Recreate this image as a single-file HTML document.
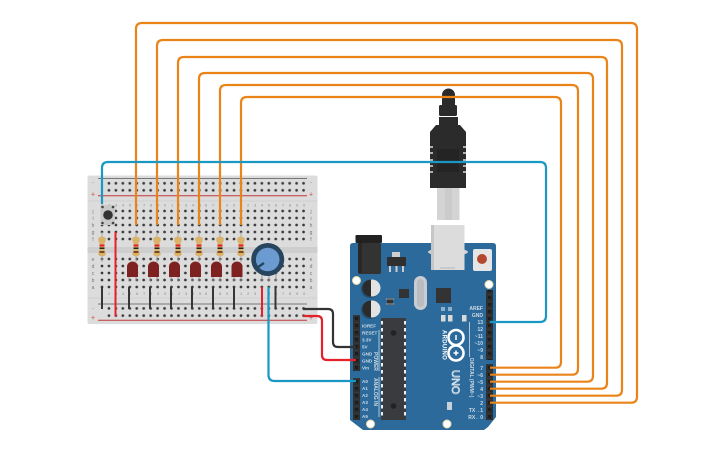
<!DOCTYPE html>
<html><head><meta charset="utf-8">
<style>html,body{margin:0;padding:0;background:#fff}svg{display:block}text{font-family:"Liberation Sans",sans-serif}</style>
</head><body>
<svg width="725" height="453" viewBox="0 0 725 453" xmlns="http://www.w3.org/2000/svg">
<defs>
<pattern id="hT" x="98.525" y="179.8" width="6.95" height="7" patternUnits="userSpaceOnUse"><circle cx="3.475" cy="3.5" r="1.35" fill="#3a3a3a"/></pattern>
<pattern id="hU" x="98.525" y="207.5" width="6.95" height="7" patternUnits="userSpaceOnUse"><circle cx="3.475" cy="3.5" r="1.35" fill="#3a3a3a"/></pattern>
<pattern id="hL" x="98.525" y="255.5" width="6.95" height="7" patternUnits="userSpaceOnUse"><circle cx="3.475" cy="3.5" r="1.35" fill="#3a3a3a"/></pattern>
<pattern id="hB" x="98.525" y="304.8" width="6.95" height="7.2" patternUnits="userSpaceOnUse"><circle cx="3.475" cy="3.6" r="1.35" fill="#3a3a3a"/></pattern>
<pattern id="pin" x="353" y="0" width="7" height="7" patternUnits="userSpaceOnUse"><rect width="7" height="7" fill="#2f2f2f"/><rect x="2" y="2" width="3" height="3" fill="#1d1d1d"/><path d="M0 0h7" stroke="#444" stroke-width=".6"/></pattern>
<pattern id="pinr" x="486" y="0" width="7" height="7" patternUnits="userSpaceOnUse"><rect width="7" height="7" fill="#2f2f2f"/><rect x="2" y="2" width="3" height="3" fill="#1d1d1d"/><path d="M0 0h7" stroke="#444" stroke-width=".6"/></pattern>
<pattern id="chipd" x="0" y="321" width="7" height="7" patternUnits="userSpaceOnUse"><rect x="0" y="0" width="7" height="3.5" fill="#eee"/></pattern>
</defs>

<!-- Breadboard -->
<rect x="87.5" y="175.5" width="230" height="148.5" rx="2" fill="#dcdcdc"/>
<rect x="87.5" y="247" width="230" height="6" fill="#cecece"/>
<path d="M87.5 201H317.5M87.5 298H317.5" stroke="#cfcfcf" stroke-width="1"/>
<path d="M98 178.500H307M98 304H307" stroke="#777" stroke-width="1"/>
<path d="M98 195.700H307M98 320.300H307" stroke="#c23a3a" stroke-width="1"/>
<g font-size="6" fill="#888" text-anchor="middle">
<text x="93" y="184">-</text><text x="311" y="184">-</text><text x="93" y="310">-</text><text x="311" y="310">-</text>
</g>
<g font-size="7" fill="#c44" text-anchor="middle">
<text x="93" y="196.500">+</text><text x="311" y="196.500">+</text><text x="93" y="320">+</text><text x="311" y="320">+</text>
</g>
<!-- holes -->
<rect x="105.475" y="179.800" width="201" height="14" fill="url(#hT)"/>
<rect x="105.475" y="304.800" width="201" height="14.400" fill="url(#hB)"/>
<rect x="98.525" y="207.500" width="208" height="35" fill="url(#hU)"/>
<rect x="98.525" y="255.500" width="208" height="35" fill="url(#hL)"/>
<!-- labels -->
<g font-size="5" fill="#777" text-anchor="middle">
<text x="93" y="213">j</text><text x="93" y="220">i</text><text x="93" y="227">h</text><text x="93" y="234">g</text><text x="93" y="241">f</text>
<text x="93" y="261">e</text><text x="93" y="268">d</text><text x="93" y="275">c</text><text x="93" y="282">b</text><text x="93" y="289">a</text>
<text x="311" y="213">j</text><text x="311" y="220">i</text><text x="311" y="227">h</text><text x="311" y="234">g</text><text x="311" y="241">f</text>
<text x="311" y="261">e</text><text x="311" y="268">d</text><text x="311" y="275">c</text><text x="311" y="282">b</text><text x="311" y="289">a</text>
</g>
<g font-size="4" fill="#8a8a8a">
<text y="206.500" x="101 108 115 122 129 136 143 150 157 164 171 178 185 192 199 205 212 219 226 233 240 247 254 261 268 275 282 289 296 303">123456789012345678901234567890</text>
<text y="295" x="101 108 115 122 129 136 143 150 157 164 171 178 185 192 199 205 212 219 226 233 240 247 254 261 268 275 282 289 296 303">123456789012345678901234567890</text>
</g>

<!-- Button -->
<rect x="100.500" y="205" width="14.500" height="20" fill="#c8c8c8"/>
<circle cx="108" cy="215" r="4.800" fill="#333"/>
<g fill="#444"><circle cx="102.500" cy="207" r="1.300"/><circle cx="113" cy="207" r="1.300"/><circle cx="102.500" cy="223" r="1.300"/><circle cx="113" cy="223" r="1.300"/></g>

<!-- Resistors -->
<g transform="translate(102 0)"><path d="M0 232V262" stroke="#aaa" stroke-width="1"/><path d="M-3.700 238q3.700-3 7.400 0l0 3-1.200 2v8l1.200 2v2q-3.700 3-7.400 0v-2l1.200-2v-8l-1.200-2z" fill="#d9b36c"/><rect x="-2.500" y="243.500" width="5" height="1.500" fill="#d9b36c"/><rect x="-2.500" y="244.500" width="5" height="2" fill="#e3222a"/><rect x="-2.500" y="247.500" width="5" height="1.500" fill="#222"/><rect x="-2.500" y="251" width="5" height="2" fill="#7a4a20"/></g>
<g transform="translate(136 0)"><path d="M0 232V262" stroke="#aaa" stroke-width="1"/><path d="M-3.700 238q3.700-3 7.400 0l0 3-1.200 2v8l1.200 2v2q-3.700 3-7.400 0v-2l1.200-2v-8l-1.200-2z" fill="#d9b36c"/><rect x="-2.500" y="244.500" width="5" height="2" fill="#e3222a"/><rect x="-2.500" y="247.500" width="5" height="1.500" fill="#222"/><rect x="-2.500" y="251" width="5" height="2" fill="#7a4a20"/></g>
<g transform="translate(157 0)"><path d="M0 232V262" stroke="#aaa" stroke-width="1"/><path d="M-3.700 238q3.700-3 7.400 0l0 3-1.200 2v8l1.200 2v2q-3.700 3-7.400 0v-2l1.200-2v-8l-1.200-2z" fill="#d9b36c"/><rect x="-2.500" y="244.500" width="5" height="2" fill="#e3222a"/><rect x="-2.500" y="247.500" width="5" height="1.500" fill="#222"/><rect x="-2.500" y="251" width="5" height="2" fill="#7a4a20"/></g>
<g transform="translate(178 0)"><path d="M0 232V262" stroke="#aaa" stroke-width="1"/><path d="M-3.700 238q3.700-3 7.400 0l0 3-1.200 2v8l1.200 2v2q-3.700 3-7.400 0v-2l1.200-2v-8l-1.200-2z" fill="#d9b36c"/><rect x="-2.500" y="244.500" width="5" height="2" fill="#e3222a"/><rect x="-2.500" y="247.500" width="5" height="1.500" fill="#222"/><rect x="-2.500" y="251" width="5" height="2" fill="#7a4a20"/></g>
<g transform="translate(199 0)"><path d="M0 232V262" stroke="#aaa" stroke-width="1"/><path d="M-3.700 238q3.700-3 7.400 0l0 3-1.200 2v8l1.200 2v2q-3.700 3-7.400 0v-2l1.200-2v-8l-1.200-2z" fill="#d9b36c"/><rect x="-2.500" y="244.500" width="5" height="2" fill="#e3222a"/><rect x="-2.500" y="247.500" width="5" height="1.500" fill="#222"/><rect x="-2.500" y="251" width="5" height="2" fill="#7a4a20"/></g>
<g transform="translate(220 0)"><path d="M0 232V262" stroke="#aaa" stroke-width="1"/><path d="M-3.700 238q3.700-3 7.400 0l0 3-1.200 2v8l1.200 2v2q-3.700 3-7.400 0v-2l1.200-2v-8l-1.200-2z" fill="#d9b36c"/><rect x="-2.500" y="244.500" width="5" height="2" fill="#e3222a"/><rect x="-2.500" y="247.500" width="5" height="1.500" fill="#222"/><rect x="-2.500" y="251" width="5" height="2" fill="#7a4a20"/></g>
<g transform="translate(241 0)"><path d="M0 232V262" stroke="#aaa" stroke-width="1"/><path d="M-3.700 238q3.700-3 7.400 0l0 3-1.200 2v8l1.200 2v2q-3.700 3-7.400 0v-2l1.200-2v-8l-1.200-2z" fill="#d9b36c"/><rect x="-2.500" y="244.500" width="5" height="2" fill="#e3222a"/><rect x="-2.500" y="247.500" width="5" height="1.500" fill="#222"/><rect x="-2.500" y="251" width="5" height="2" fill="#7a4a20"/></g>

<!-- LEDs -->
<g stroke="#999" stroke-width="1"><path d="M129 276V281M136 276V281M150 276V281M157 276V281M171 276V281M178 276V281M192 276V281M199 276V281M213 276V281M220 276V281M234 276V281M241 276V281"/></g>
<g fill="#7e2121">
<path d="M127 266.500a5.500 5 0 0 1 11 0v10.500h-11z"/>
<path d="M148 266.500a5.500 5 0 0 1 11 0v10.500h-11z"/>
<path d="M169 266.500a5.500 5 0 0 1 11 0v10.500h-11z"/>
<path d="M190 266.500a5.500 5 0 0 1 11 0v10.500h-11z"/>
<path d="M211 266.500a5.500 5 0 0 1 11 0v10.500h-11z"/>
<path d="M231.500 266.500a5.500 5 0 0 1 11 0v10.500h-11z"/>
</g>

<!-- Pot -->
<path d="M262 274V281M269 274V281M276 274V281" stroke="#999" stroke-width="1"/>
<circle cx="267.700" cy="259.500" r="16.500" fill="#27455f"/>
<circle cx="267.700" cy="259.500" r="11.800" fill="#6b9bd0"/>
<path d="M264 263L256 268.500" stroke="#27455f" stroke-width="2.400"/>

<!-- Breadboard wires -->
<path d="M102 287V309M129 287V309M150 287V309M171 287V309M192 287V309M213 287V309M234 287V309M275.500 287V309" stroke="#363636" stroke-width="2" fill="none"/>
<path d="M115.500 232V316.500M262 287V316.500" stroke="#e3222a" stroke-width="2" fill="none"/>

<!-- USB plug and port -->
<path d="M442 105V95a6.500 6.500 0 0 1 13 0V105z" fill="#2b2b2b"/>
<rect x="439" y="105" width="18" height="11" rx="1.500" fill="#2b2b2b"/>
<rect x="439" y="117" width="19" height="9" fill="#2b2b2b"/>
<path d="M436 125H460L466 132V188H430V132z" fill="#2b2b2b"/>
<rect x="437" y="149" width="22" height="23" fill="#242424"/>
<path d="M430 147h3M430 153h3M430 160h3M430 166h3M430 172h3M463 147h3M463 153h3M463 160h3M463 166h3M463 172h3" stroke="#fff" stroke-width="1.200"/>
<rect x="437" y="188" width="22.500" height="32" fill="#d4d4d4"/>
<rect x="445" y="188" width="7" height="32" fill="#cbcbcb"/>

<!-- Arduino -->
<path d="M353 243H493Q496 243 496 246V417L488 427L484 430H363L350 420V246Q350 243 353 243Z" fill="#2b6a9b"/>
<!-- jack -->
<rect x="358" y="243" width="23" height="31" rx="2" fill="#333"/>
<rect x="355.500" y="235" width="26.500" height="8" rx="1" fill="#222"/>
<rect x="358" y="240" width="4" height="33" fill="#1f1f1f" opacity=".6"/>
<!-- port -->
<ellipse cx="448" cy="252" rx="20" ry="4" fill="#d2d2d2"/>
<rect x="431" y="225" width="33.500" height="45" fill="#dcdcdc"/>
<rect x="431" y="225" width="3" height="45" fill="#c6c6c6"/>
<path d="M440 268H455" stroke="#b8b8b8" stroke-width="1"/>
<!-- reset -->
<rect x="473" y="249" width="19" height="22" rx="2" fill="#e6e6e6"/>
<circle cx="482" cy="259" r="5" fill="#b34a30"/>
<!-- regulator -->
<rect x="392" y="252" width="8" height="5" fill="#cfcfcf"/>
<rect x="387" y="257" width="19" height="9" fill="#2f2f2f"/>
<path d="M390 266V272M396.500 266V272M403 266V272" stroke="#ccc" stroke-width="2"/>
<!-- caps -->
<circle cx="370" cy="289" r="9" fill="#224e72"/><circle cx="370" cy="310" r="9" fill="#224e72"/>
<circle cx="372" cy="288" r="8.500" fill="#e2e2e2"/><path d="M371 279.500a8.500 8.500 0 0 0 0 17z" fill="#2b2b2b"/>
<circle cx="372" cy="309" r="8.500" fill="#e2e2e2"/><path d="M371 300.500a8.500 8.500 0 0 0 0 17z" fill="#2b2b2b"/>
<!-- crystal -->
<rect x="414" y="276" width="13" height="34" rx="6.500" fill="#c9ccd0"/>
<rect x="417" y="279" width="7" height="28" rx="3.500" fill="#b9bdc2"/>
<!-- ICs -->
<rect x="399" y="289" width="10" height="9" fill="#333"/>
<rect x="387" y="298" width="6" height="7" fill="#333"/>
<path d="M386 299H394M386 304H394" stroke="#ccc" stroke-width=".8"/>
<rect x="436" y="288" width="15" height="15" fill="#333"/>
<!-- smd leds -->
<rect x="441" y="315" width="4.500" height="6.500" fill="#d9d9d9"/><rect x="448" y="315" width="4.500" height="6.500" fill="#d9d9d9"/><rect x="462" y="315" width="4.500" height="6.500" fill="#d9d9d9"/>
<rect x="441" y="307" width="4" height="4" fill="#bcd0e0" opacity=".7"/><rect x="448" y="307" width="4" height="4" fill="#bcd0e0" opacity=".7"/>
<rect x="447" y="402" width="5" height="8" fill="#c8d0d8"/>
<!-- main chip -->
<rect x="381" y="318" width="25" height="102" fill="#3a3b3e"/>
<rect x="381" y="321" width="2" height="97" fill="url(#chipd)"/>
<rect x="404" y="321" width="2" height="97" fill="url(#chipd)"/>
<circle cx="393.500" cy="333" r="2.800" fill="#222"/>
<circle cx="393.500" cy="406" r="2.800" fill="#222"/>
<!-- headers -->
<rect x="353" y="315" width="7" height="56" fill="url(#pin)"/>
<rect x="353" y="378" width="7" height="42" fill="url(#pin)"/>
<rect x="486" y="290" width="7" height="70" fill="url(#pinr)"/>
<rect x="486" y="364" width="7" height="56" fill="url(#pinr)"/>
<!-- mounting -->
<circle cx="356.500" cy="280.500" r="4" fill="#fff" stroke="#e8dca8" stroke-width="1"/>
<circle cx="489" cy="284.500" r="4" fill="#fff" stroke="#e8dca8" stroke-width="1"/>
<circle cx="370.500" cy="424" r="4" fill="#fff" stroke="#e8dca8" stroke-width="1"/>
<circle cx="447" cy="424" r="4" fill="#fff" stroke="#e8dca8" stroke-width="1"/>
<!-- logo -->
<circle cx="456" cy="337.500" r="7.500" fill="none" stroke="#fff" stroke-width="2.600"/>
<circle cx="456" cy="353" r="7.500" fill="none" stroke="#fff" stroke-width="2.600"/>
<path d="M456 335V340M456 350.500V355.500M453.500 353H458.500" stroke="#fff" stroke-width="1.500"/>
<text transform="translate(442.500 330) rotate(90)" font-size="6" font-weight="bold" fill="#fff" letter-spacing=".3">ARDUINO</text>
<text transform="translate(452 370) rotate(90)" font-size="11" fill="none" stroke="#fff" stroke-width=".6">UNO</text>
<!-- labels -->
<g font-size="5" font-weight="bold" fill="#cfdbe5" text-anchor="end">
<text x="483" y="310">AREF</text><text x="483" y="317">GND</text><text x="483" y="324">13</text><text x="483" y="331">12</text><text x="483" y="338">~11</text><text x="483" y="345">~10</text><text x="483" y="352">~9</text><text x="483" y="359">8</text>
<text x="483" y="370">7</text><text x="483" y="377">~6</text><text x="483" y="384">~5</text><text x="483" y="391">4</text><text x="483" y="398">~3</text><text x="483" y="405">2</text><text x="483" y="412">TX&#8594;1</text><text x="483" y="419">RX&#8592;0</text>
</g>
<g font-size="4.600" font-weight="bold" fill="#cfdbe5">
<text x="362" y="327.500">IOREF</text><text x="362" y="334.500">RESET</text><text x="362" y="341.500">3.3V</text><text x="362" y="348.500">5V</text><text x="362" y="355.500">GND</text><text x="362" y="362.500">GND</text><text x="362" y="369.500">Vin</text>
<text x="362" y="383">A0</text><text x="362" y="390">A1</text><text x="362" y="397">A2</text><text x="362" y="404">A3</text><text x="362" y="411">A4</text><text x="362" y="418">A5</text>
</g>
<g font-size="5" font-weight="bold" fill="#cfdbe5">
<text transform="translate(374 352) rotate(90)">POWER</text>
<text transform="translate(374 378) rotate(90)">ANALOG IN</text>
<text transform="translate(470 358) rotate(90)">DIGITAL (PWM~)</text>
</g>
<path d="M379 330V371M379 377V417M469.500 322V357" stroke="#cfdde8" stroke-width=".8"/>

<!-- Wires -->
<g fill="none" stroke="#ea8418" stroke-width="2.200">
<path d="M136 225V29Q136 23 142 23H631Q637 23 637 29V396.700Q637 402.700 631 402.700H490"/>
<path d="M157 225V46Q157 40 163 40H616Q622 40 622 46V389.700Q622 395.700 616 395.700H490"/>
<path d="M178 225V63Q178 57 184 57H601Q607 57 607 63V382.700Q607 388.700 601 388.700H490"/>
<path d="M199 225V79Q199 73 205 73H587Q593 73 593 79V375.700Q593 381.700 587 381.700H490"/>
<path d="M220 225V91Q220 85 226 85H572Q578 85 578 91V368.700Q578 374.700 572 374.700H490"/>
<path d="M241 225V103Q241 97 247 97H555Q561 97 561 103V361.700Q561 367.700 555 367.700H490"/>
</g>
<path d="M102 204V168Q102 162 108 162H540Q546 162 546 168V316Q546 322 540 322H490" fill="none" stroke="#1a98c4" stroke-width="2.200"/>
<path d="M268.500 287V375Q268.500 381 274.500 381H356" fill="none" stroke="#1a98c4" stroke-width="2.200"/>
<path d="M303 309H328Q333 309 333 314V342Q333 347 338 347H356" fill="none" stroke="#333" stroke-width="2.200"/>
<path d="M303 316H317Q322 316 322 321V355Q322 360 327 360H356" fill="none" stroke="#e3222a" stroke-width="2.200"/>
</svg>
</body></html>
